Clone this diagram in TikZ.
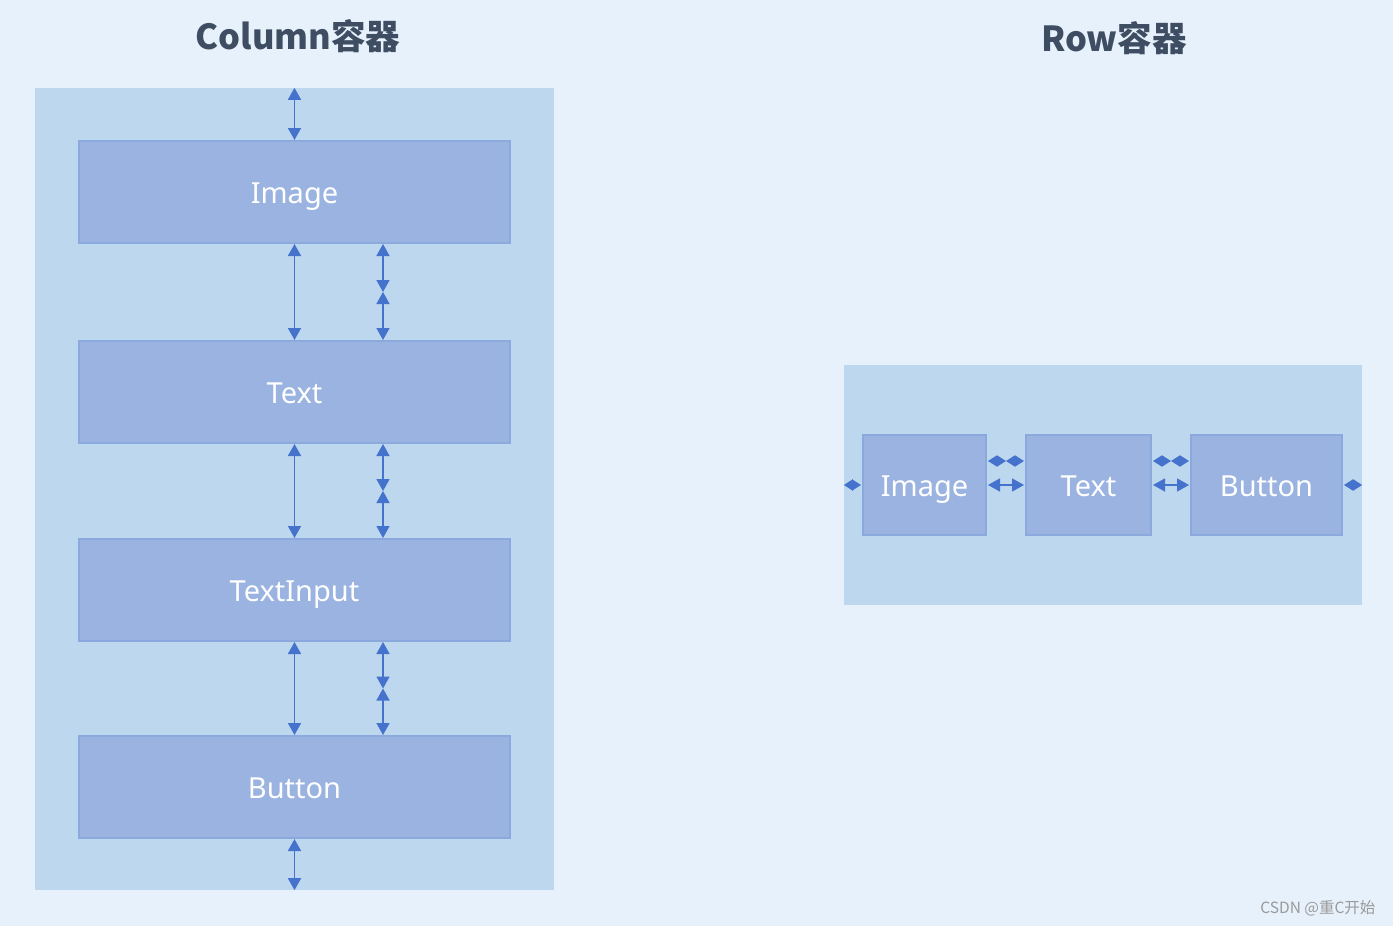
\documentclass[tikz,border=0pt]{standalone}
\usepackage{fontspec}
\setmainfont{Noto Sans}
\newfontfamily\cjkfont{Noto Sans CJK SC}
\usetikzlibrary{arrows.meta}
\usetikzlibrary{calc}

\definecolor{pagebg}{HTML}{E6F1FC}
\definecolor{holderfill}{HTML}{BDD7EE}
\definecolor{itemfill}{HTML}{9BB3E0}
\definecolor{itemline}{HTML}{8CA9DD}
\definecolor{gapblue}{HTML}{4472CC}
\definecolor{titlegray}{HTML}{3F4D62}
\definecolor{markgray}{HTML}{9A9A9A}

\tikzset{
  holder/.style={shape=rectangle, fill=holderfill, inner sep=0pt},
  item/.style={shape=rectangle, draw=itemline, fill=itemfill, line width=2pt, inner sep=0pt,
    text=white, font=\fontsize{29}{34}\selectfont, text height=26pt, text depth=4pt},
  headline/.style={text=titlegray, font=\cjkfont\bfseries\fontsize{34.5}{40}\selectfont},
  gap/.style={draw=gapblue, line width=1.6pt,
    {Triangle[length=12pt,width=13pt]}-{Triangle[length=12pt,width=13pt]}},
  smallgap/.style={draw=gapblue, line width=1.6pt,
    {Triangle[length=9pt,width=11pt]}-{Triangle[length=9pt,width=11pt]}}
}

\begin{document}
\begin{tikzpicture}[x=1pt, y=-1pt]
        \fill[pagebg] (0,0) rectangle (1393,926);
        \useasboundingbox (0,0) rectangle (1393,926);

        % Column
        \node[headline] (coltitle) at (298,36) {Column容器};
        \node[holder, minimum width=519pt, minimum height=802pt] (col) at (294.5,489) {};
        \node[item, minimum width=431pt, minimum height=102pt] (img) at (294.5,192) {Image};
        \node[item, minimum width=431pt, minimum height=102pt] (txt) at (294.5,392) {Text};
        \node[item, minimum width=431pt, minimum height=102pt] (inp) at (294.5,590) {TextInput};
        \node[item, minimum width=431pt, minimum height=102pt] (btn) at (294.5,787) {Button};

        \draw[gap] (col.north) -- (img.north);
        \draw[gap] (btn.south) -- (col.south);
        \foreach \u/\l/\n in {img/txt/1, txt/inp/2, inp/btn/3} {
          \draw[gap] (\u.south) -- (\l.north);
          \coordinate (a\n) at ([xshift=88.5pt]\u.south);
          \coordinate (b\n) at ([xshift=88.5pt]\l.north);
          \coordinate (m\n) at ($(a\n)!0.5!(b\n)$);
          \draw[gap] (a\n) -- (m\n);
          \draw[gap] (m\n) -- (b\n);
        }

        % Row
        \node[headline] (rowtitle) at (1114,38) {Row容器};
        \node[holder, minimum width=518pt, minimum height=240pt] (row) at (1103,485) {};
        \node[item, minimum width=123pt, minimum height=100pt] (rimg) at (924.5,485) {Image};
        \node[item, minimum width=125pt, minimum height=100pt] (rtxt) at (1088.5,485) {Text};
        \node[item, minimum width=151pt, minimum height=100pt] (rbtn) at (1266.5,485) {Button};

        \draw[smallgap] (row.west |- rimg.west) -- ([xshift=-1pt]rimg.west);
        \draw[smallgap] ([xshift=1pt]rbtn.east) -- (row.east |- rbtn.east);
        \foreach \a/\b/\n in {rimg/rtxt/1, rtxt/rbtn/2} {
          \draw[gap] ([xshift=1pt]\a.east) -- ([xshift=-1pt]\b.west);
          \coordinate (p\n) at ([xshift=1pt, yshift=24pt]\a.east);
          \coordinate (q\n) at ([xshift=-1pt, yshift=24pt]\b.west);
          \coordinate (r\n) at ($(p\n)!0.5!(q\n)$);
          \draw[smallgap] (p\n) -- (r\n);
          \draw[smallgap] (r\n) -- (q\n);
        }

        \node[anchor=east, text=markgray, font=\cjkfont\fontsize{15.5}{18}\selectfont] (mark) at (1379,908) {CSDN @重C开始};
    \end{tikzpicture}
\end{document}
